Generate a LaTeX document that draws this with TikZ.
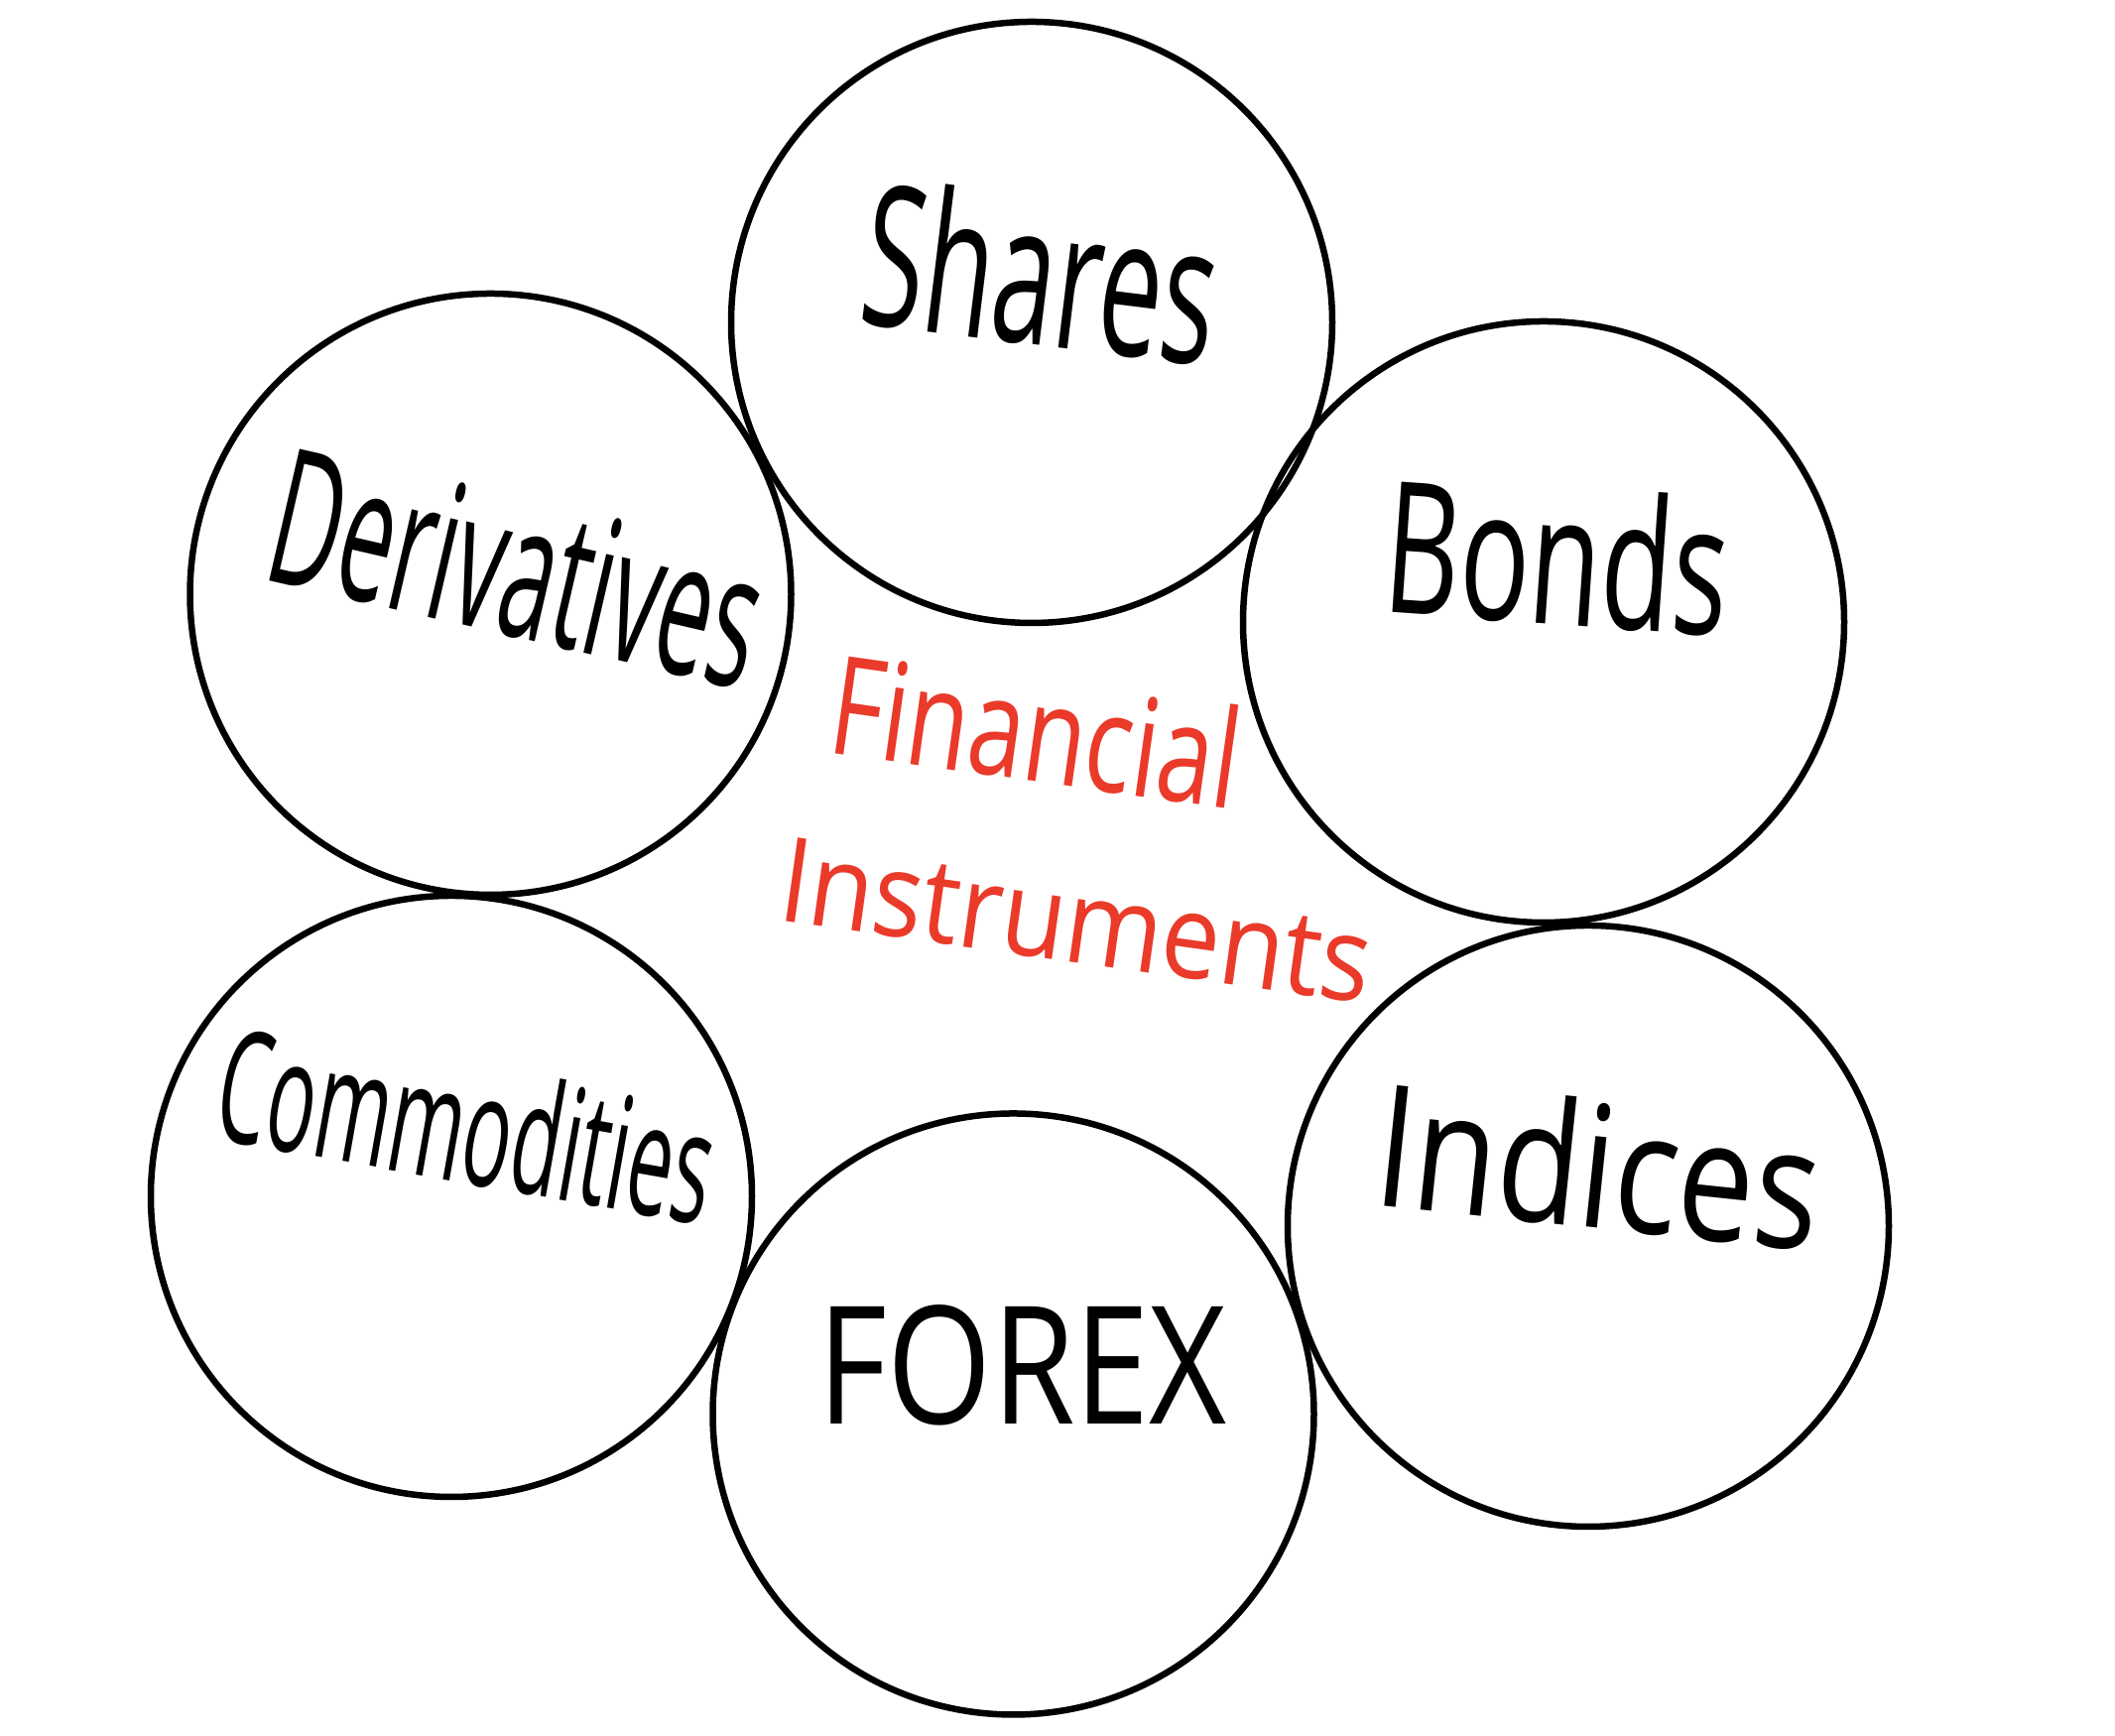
\documentclass[tikz,border=0pt]{standalone}
\usepackage{fontspec}
\setmainfont{Open Sans}
\usepackage{graphicx}
\definecolor{finred}{HTML}{EA3A2A}
\begin{document}
\begin{tikzpicture}[line cap=round,
    pot/.style={draw,circle,line width=0.065cm,minimum size=6.06cm,inner sep=0pt},
    word/.style={inner sep=0pt,text=black},
    redword/.style={inner sep=0pt,text=finred}]
  \useasboundingbox (0,0) rectangle (21.32,17.50);
  % the six circles
  \node[pot] (shares) at (10.40,14.25) {};
  \node[pot] (deriv) at (4.945,11.51) {};
  \node[pot] (bonds) at (15.56,11.23) {};
  \node[pot] (commod) at (4.55,5.44) {};
  \node[pot] (indices) at (16.01,5.14) {};
  \node[pot] (forex) at (10.215,3.245) {};
  % names in the circles
  \node[word,rotate=-7] (lshares) at (10.50,14.76) {\resizebox{3.57cm}{1.5cm}{Shares}};
  \node[word,rotate=-13] (lderiv) at (5.22,11.78) {\resizebox{5.0cm}{1.4cm}{Derivatives}};
  \node[word,rotate=-4] (lbonds) at (15.70,11.90) {\resizebox{3.46cm}{1.4cm}{Bonds}};
  \node[word,rotate=-10] (lcommod) at (4.71,6.17) {\resizebox{5.04cm}{1.2cm}{Commodities}};
  \node[word,rotate=-6] (lindices) at (16.12,5.76) {\resizebox{4.48cm}{1.3cm}{Indices}};
  \node[word] (lforex) at (10.31,3.74) {\resizebox{4.12cm}{1.2cm}{FOREX}};
  % the red title in the middle
  \node[redword,rotate=-8] (fin) at (10.45,10.14) {\resizebox{4.14cm}{1.05cm}{Financial}};
  \node[redword,rotate=-8] (ins) at (10.85,8.22) {\resizebox{6.0cm}{0.85cm}{Instruments}};
\end{tikzpicture}
\end{document}
